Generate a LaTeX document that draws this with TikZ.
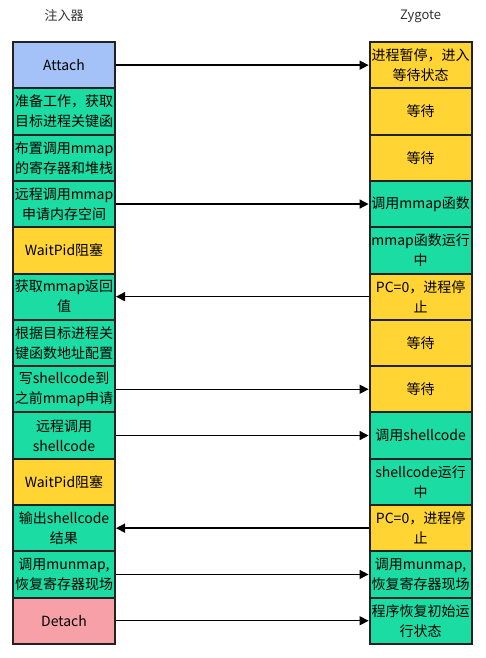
\documentclass[tikz,border=0pt]{standalone}
\usepackage{fontspec}
\setmainfont{Noto Sans CJK SC}
\usetikzlibrary{positioning,arrows.meta}

\definecolor{boxblue}{HTML}{A4C2F8}
\definecolor{boxgreen}{HTML}{1BDCA3}
\definecolor{boxyellow}{HTML}{FFD433}
\definecolor{boxpink}{HTML}{F8A0A8}
\definecolor{edgegray}{HTML}{222222}

\begin{document}
\begin{tikzpicture}[->,>={Triangle[length=9pt,width=9pt]},line width=1.4pt,node distance=46.3pt,
  box/.style={draw=edgegray,line width=2pt,minimum width=102pt,minimum height=46.3pt,text width=100pt,
    align=center,inner sep=0pt,font=\fontsize{14}{20}\selectfont},
  blue/.style={box,fill=boxblue},green/.style={box,fill=boxgreen},
  yellow/.style={box,fill=boxyellow},pink/.style={box,fill=boxpink},
  title/.style={text=black!80,font=\fontsize{13}{15}\selectfont}]
\useasboundingbox (0,0) rectangle (485pt,-658pt);
\node[title] (inj) at (64pt,-16pt) {注入器};
\node[title] (zyg) at (420.6pt,-16pt) {Zygote};

\node[blue] (inj1) at (64pt,-65.15pt) {Attach};
\node[green] (inj2) [below of=inj1] {准备工作，获取\\目标进程关键函};
\node[green] (inj3) [below of=inj2] {布置调用mmap\\的寄存器和堆栈};
\node[green] (inj4) [below of=inj3] {远程调用mmap\\申请内存空间};
\node[yellow] (inj5) [below of=inj4] {WaitPid阻塞};
\node[green] (inj6) [below of=inj5] {获取mmap返回\\值};
\node[green] (inj7) [below of=inj6] {根据目标进程关\\键函数地址配置};
\node[green] (inj8) [below of=inj7] {写shellcode到\\之前mmap申请};
\node[green] (inj9) [below of=inj8] {远程调用\\shellcode};
\node[yellow] (inj10) [below of=inj9] {WaitPid阻塞};
\node[green] (inj11) [below of=inj10] {输出shellcode\\结果};
\node[green] (inj12) [below of=inj11] {调用munmap,\\恢复寄存器现场};
\node[pink] (inj13) [below of=inj12] {Detach};

\node[yellow] (zyg1) at (420.6pt,-65.15pt) {进程暂停，进入\\等待状态};
\node[yellow] (zyg2) [below of=zyg1] {等待};
\node[yellow] (zyg3) [below of=zyg2] {等待};
\node[green] (zyg4) [below of=zyg3] {调用mmap函数};
\node[green] (zyg5) [below of=zyg4] {mmap函数运行\\中};
\node[yellow] (zyg6) [below of=zyg5] {PC=0，进程停\\止};
\node[yellow] (zyg7) [below of=zyg6] {等待};
\node[yellow] (zyg8) [below of=zyg7] {等待};
\node[green] (zyg9) [below of=zyg8] {调用shellcode};
\node[green] (zyg10) [below of=zyg9] {shellcode运行\\中};
\node[yellow] (zyg11) [below of=zyg10] {PC=0，进程停\\止};
\node[green] (zyg12) [below of=zyg11] {调用munmap,\\恢复寄存器现场};
\node[green] (zyg13) [below of=zyg12] {程序恢复初始运\\行状态};

\path (inj1) edge (zyg1)
(inj4) edge (zyg4)
(zyg6) edge (inj6)
(inj8) edge (zyg8)
(inj9) edge (zyg9)
(zyg11) edge (inj11)
(inj12) edge (zyg12)
(inj13) edge (zyg13);
\end{tikzpicture}
\end{document}
